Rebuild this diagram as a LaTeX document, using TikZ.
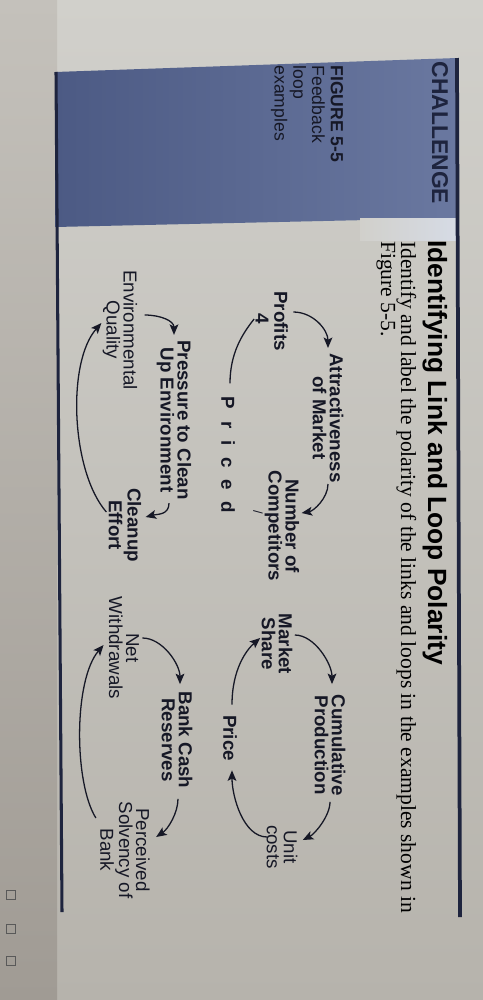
\documentclass[tikz,border=0pt]{standalone}
\usepackage{fontspec}
\setmainfont{Liberation Serif}
\setsansfont{Liberation Sans}
\usepackage{xcolor}
\usepackage{tikz}
\usetikzlibrary{arrows.meta}
\definecolor{pagegray}  {RGB}{209,208,203}
\definecolor{pagedark}  {RGB}{182,179,172}
\definecolor{margingray}{RGB}{196,193,187}
\definecolor{margindark}{RGB}{160,155,148}
\definecolor{boxblue}   {RGB}{76,90,132}
\definecolor{boxlight}  {RGB}{106,120,160}
\definecolor{boxedge}   {RGB}{30,36,62}
\definecolor{inkblack}  {RGB}{22,24,38}
\definecolor{paleblue}  {RGB}{214,219,229}

\newcommand{\lsp}{\hspace{.63em}}

\begin{document}
\begin{tikzpicture}[x=0.03cm,y=-0.03cm,
  lbl/.style={rotate=-90,align=center,inner sep=1pt,text=inkblack,
              font=\sffamily\fontsize{16}{14.5}\selectfont},
  blbl/.style={lbl,font=\sffamily\bfseries\fontsize{16}{14.5}\selectfont},
  txt/.style={rotate=-90,anchor=base west,inner sep=0pt},
  arr/.style={draw=inkblack,line width=1.1pt,
              -{Stealth[length=9pt,width=7.5pt,inset=2pt]}},
  plainline/.style={draw=inkblack,line width=1.1pt},
  framerule/.style={draw=boxedge,line cap=butt},
]

%% Page, margin and banner
\useasboundingbox (0,0) rectangle (483,1000);
\shade[top color=pagegray,bottom color=pagedark] (0,0) rectangle (483,1000);
\shade[top color=margingray,bottom color=margindark] (0,0) rectangle (57,1000);
\shade[left color=boxblue,right color=boxlight]
  (55,72) -- (457,58) -- (457,218) -- (55,227) -- cycle;
\shade[left color=pagegray,right color=paleblue] (360,218) rectangle (456,240);
\draw[framerule,line width=2.6pt] (56,72) -- (62,912);
\draw[framerule,line width=3.2pt] (457,58) -- (460,917);

%% Viewer icons
\foreach \iy in {890,924,956}{
  \draw[gray!70!black,line width=0.5pt] (6,\iy) rectangle (15,\iy+9);
}

%% Banner texts
\node[rotate=-90,inner sep=0pt,text=boxedge,
      font=\sffamily\bfseries\fontsize{19.5}{20}\selectfont]
  (banner) at (440,133) {CHALLENGE};
\node[rotate=-90,align=left,inner sep=0pt,text=inkblack,
      font=\sffamily\fontsize{15}{16}\selectfont]
  (figcap) at (307,114) {\textbf{FIGURE 5-5}\\Feedback\\loop\\examples};

%% Heading and task
\node[txt,text=black,font=\sffamily\bfseries\fontsize{22.5}{26}\selectfont]
  (title) at (428,240) {Identifying Link and Loop Polarity};
\node[txt,text=black,font=\rmfamily\fontsize{18.4}{17}\selectfont]
  (task) at (401,241)
  {Identify and label the polarity of the links and loops in the examples shown in};
\node[txt,text=black,font=\rmfamily\fontsize{18.4}{17}\selectfont]
  (task2) at (381,241) {Figure 5-5.};

%% Loop 1: attractiveness of market
\node[blbl] (profits) at (281,321) {Profits};
\node[blbl] (four) at (262,319) {4};
\node[blbl] (attr) at (328,418) {Attractiveness\\of Market};
\node[blbl] (number) at (282,526) {Number of\\Competitors};
\node[blbl] (priced) at (228,455) {P\lsp r\lsp i\lsp c\lsp e\lsp d};
\node[lbl,font=\sffamily\fontsize{11}{12}\selectfont] (tick) at (258,512) {/};

\draw[arr] ([shift={(4,-9)}]profits.north) .. controls +(20,0) and +(0,-18) ..
  ([shift={(0,-4)}]attr.west);
\draw[arr] (attr.east) .. controls +(0,14) and +(12,-2) ..
  ([shift={(1,-13)}]number.north);
\draw[plainline] ([shift={(2,-12)}]priced.west) .. controls +(0,-30) and +(-12,15) ..
  (four.south);

%% Loop 2: environment
\node[lbl] (envq) at (120,330) {Environmental\\Quality};
\node[blbl] (pressure) at (174,420) {Pressure to Clean\\Up Environment};
\node[blbl] (cleanup) at (125,525) {Cleanup\\Effort};

\draw[arr] ([shift={(6,-15)}]envq.north) .. controls +(16,0) and +(0,-14) ..
  ([shift={(0,-4)}]pressure.west);
\draw[arr] ([shift={(-5,2)}]pressure.east) .. controls +(0,12) and +(12,-3) ..
  ([shift={(3,-8)}]cleanup.north);
\draw[arr] ([shift={(-1,-13)}]cleanup.south) .. controls +(-35,-40) and +(-35,40) ..
  ([shift={(0,-7)}]envq.south);

%% Loop 3: market share
\node[blbl] (market) at (277,644) {Market\\Share};
\node[blbl] (cum) at (330,745) {Cumulative\\Production};
\node[lbl] (unit) at (282,847) {Unit\\costs};
\node[blbl] (price) at (230,738) {Price};

\draw[arr] ([shift={(1,-9)}]market.north) .. controls +(20,0) and +(0,-20) ..
  ([shift={(2,-9)}]cum.west);
\draw[arr] ([shift={(0,5)}]cum.east) .. controls +(0,14) and +(12,-6) ..
  ([shift={(4,-7)}]unit.north);
\draw[arr] ([shift={(2,-10)}]unit.south) .. controls +(-24,0) and +(0,26) ..
  ([shift={(2,8)}]price.east);
\draw[arr] ([shift={(2,-9)}]price.west) .. controls +(0,-35) and +(-14,12) ..
  ([shift={(0,-6)}]market.south);

%% Loop 4: bank run
\node[lbl] (net) at (124,648) {Net\\Withdrawals};
\node[blbl] (bank) at (177,740) {Bank Cash\\Reserves};
\node[lbl] (perc) at (125,850) {Perceived\\Solvency of\\Bank};

\draw[arr] ([shift={(2,-10)}]net.north) .. controls +(20,0) and +(0,-20) ..
  ([shift={(3,-6)}]bank.west);
\draw[arr] ([shift={(1,9)}]bank.east) .. controls +(0,14) and +(12,-8) ..
  ([shift={(5,-13)}]perc.north);
\draw[arr] ([shift={(-3,-32)}]perc.south) .. controls +(-22,-35) and +(-30,35) ..
  ([shift={(-4,-3)}]net.south);

\end{tikzpicture}
\end{document}
